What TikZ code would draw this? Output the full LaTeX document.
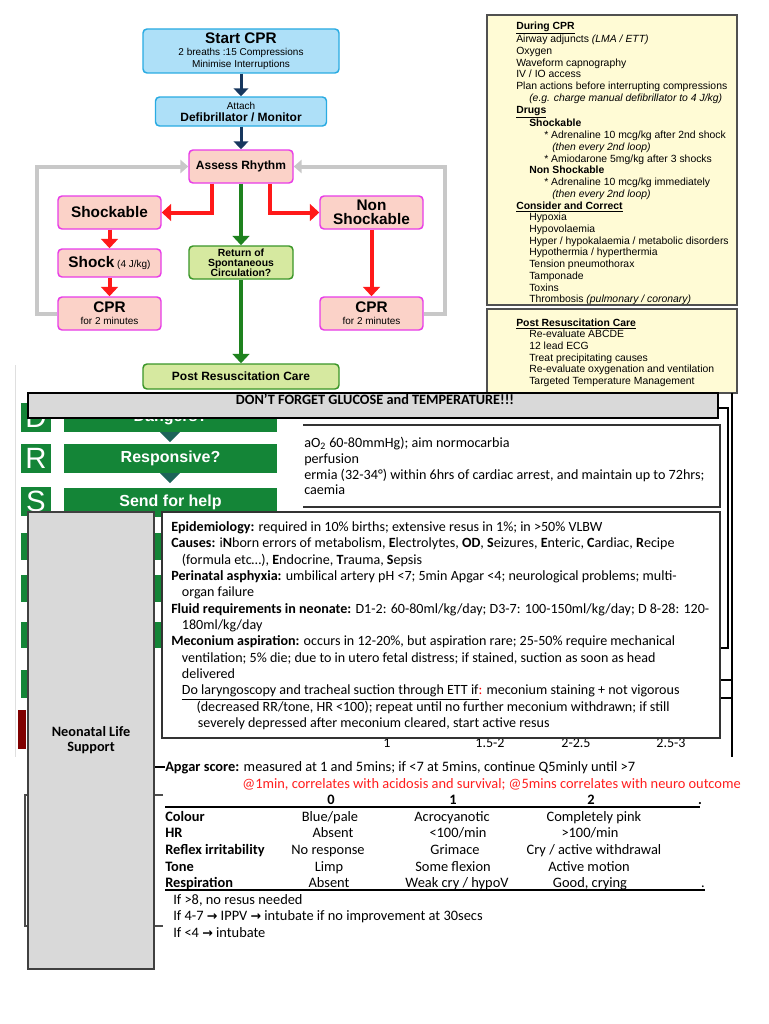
\documentclass[tikz,border=0pt]{standalone}
\usepackage{fontspec}
\setmainfont{Carlito}
\newfontfamily\arial{Liberation Sans}
\newfontfamily\dvs{DejaVu Sans}
\usetikzlibrary{arrows.meta,calc}
\definecolor{cprblue}{RGB}{174,224,248}
\definecolor{cprblueb}{RGB}{41,171,226}
\definecolor{cprpink}{RGB}{251,210,200}
\definecolor{cprpinkb}{RGB}{232,60,232}
\definecolor{cprgreen}{RGB}{214,233,160}
\definecolor{cprgreenb}{RGB}{58,150,40}
\definecolor{cprnavy}{RGB}{23,55,94}
\definecolor{cprred}{RGB}{255,25,25}
\definecolor{cprgreenarr}{RGB}{30,130,30}
\definecolor{loopgray}{RGB}{200,200,200}
\definecolor{panelyellow}{RGB}{255,251,213}
\definecolor{panelborder}{RGB}{80,80,80}
\definecolor{drsgreen}{RGB}{20,133,55}
\definecolor{drstri}{RGB}{28,100,88}
\definecolor{drsred}{RGB}{128,0,0}
\definecolor{bannergray}{RGB}{217,217,217}
\definecolor{apgred}{RGB}{255,30,30}
\begin{document}
\begin{tikzpicture}[x=0.75pt,y=-0.75pt,
  flowbox/.style={rectangle, rounded corners=3pt, inner sep=0pt, align=center, line width=1.1pt, font=\arial\fontsize{7.5}{9}\selectfont},
  bluebox/.style={flowbox, fill=cprblue, draw=cprblueb},
  pinkbox/.style={flowbox, fill=cprpink, draw=cprpinkb},
  greenbox/.style={flowbox, fill=cprgreen, draw=cprgreenb},
  bigtitle/.style={font=\arial\bfseries\fontsize{11.5}{10.5}\selectfont},
  navyarrow/.style={draw=cprnavy, line width=2.25pt, -{Triangle[width=11pt,length=6pt]}},
  redarrow/.style={draw=cprred, line width=3pt, -{Triangle[width=12.5pt,length=7pt]}},
  greenarrow/.style={draw=cprgreenarr, line width=3pt, -{Triangle[width=12.5pt,length=7pt]}},
  grayloop/.style={draw=loopgray, line width=3pt, -{Triangle[width=10pt,length=6pt]}},
  paneltext/.style={anchor=north west, inner sep=0pt, align=left, font=\arial\fontsize{7.8}{8.8}\selectfont},
  panelbox/.style={fill=panelyellow, draw=panelborder, line width=0.9pt},
  bodytext/.style={anchor=north west, inner sep=0pt, align=left, font=\fontsize{10.55}{12.25}\selectfont},
  whitebox/.style={fill=white, draw=black!80, line width=0.8pt},
  drsletter/.style={fill=drsgreen, text=white, minimum width=22.5pt, minimum height=21.75pt, inner sep=0pt, font=\arial\fontsize{22}{22}\selectfont},
  drsbar/.style={fill=drsgreen, text=white, minimum width=160pt, minimum height=21.75pt, inner sep=0pt, font=\arial\bfseries\fontsize{12}{12}\selectfont},
  apg/.style={anchor=base, inner sep=0pt, font=\fontsize{10.8}{12}\selectfont},
  apglab/.style={anchor=base west, inner sep=0pt, font=\bfseries\fontsize{10.8}{12}\selectfont},
  thinline/.style={draw=black, line width=0.8pt}
]
\useasboundingbox (0,0) rectangle (768,1024);
\fill[white] (0,0) rectangle (768,1024);

% ---------------- top flowchart ----------------
\node[bluebox, minimum width=147pt, minimum height=33pt] (start) at (241,51)
  {{\fontsize{11.5}{12}\selectfont\bfseries Start CPR}\\ 2 breaths :15 Compressions\\ Minimise Interruptions};
\node[bluebox, minimum width=128.25pt, minimum height=21.75pt] (defib) at (241,111.5)
  {Attach\\{\fontsize{9}{10}\selectfont\bfseries Defibrillator / Monitor}};
\node[pinkbox, minimum width=78pt, minimum height=24.75pt, font=\arial\bfseries\fontsize{9}{10}\selectfont] (assess) at (241,166.5) {Assess Rhythm};
\node[pinkbox, bigtitle, minimum width=77.25pt, minimum height=24.75pt] (shockable) at (109.5,212.5) {Shockable};
\node[pinkbox, bigtitle, minimum width=77.25pt, minimum height=24.75pt] (nonshock) at (371.5,212.5) {Non\\Shockable};
\node[pinkbox, minimum width=77.25pt, minimum height=21pt] (shock) at (109.5,263)
  {{\bfseries\fontsize{11.5}{12}\selectfont Shock} (4 J/kg)};
\node[pinkbox, minimum width=77.25pt, minimum height=24.75pt] (cprL) at (109.5,313.5)
  {{\bfseries\fontsize{11.5}{10.5}\selectfont CPR}\\ for 2 minutes};
\node[pinkbox, minimum width=77.25pt, minimum height=24.75pt] (cprR) at (371.5,313.5)
  {{\bfseries\fontsize{11.5}{10.5}\selectfont CPR}\\ for 2 minutes};
\node[greenbox, minimum width=78pt, minimum height=24.75pt, font=\arial\bfseries\fontsize{7.8}{7.4}\selectfont] (rosc) at (241,262.5)
  {Return of\\Spontaneous\\Circulation?};
\node[greenbox, minimum width=147pt, minimum height=18.75pt, font=\arial\bfseries\fontsize{9}{10}\selectfont] (post) at (241,376.5) {Post Resuscitation Care};

\draw[navyarrow] (start.south) -- (defib.north);
\draw[navyarrow] (defib.south) -- (assess.north);
\draw[redarrow] ($(assess.south)+(-29,0)$) |- (shockable.east);
\draw[redarrow] ($(assess.south)+(29,0)$) |- (nonshock.west);
\draw[greenarrow] (assess.south) -- (rosc.north);
\draw[greenarrow] (rosc.south) -- (post.north);
\draw[redarrow] (shockable.south) -- (shock.north);
\draw[redarrow] (shock.south) -- (cprL.north);
\draw[redarrow] (nonshock.south) -- (cprR.north);
\draw[grayloop] (cprL.west) -- ++(-20,0) |- (assess.west);
\draw[grayloop] (cprR.east) -- ++(21,0) |- (assess.east);

% ---------------- yellow panels ----------------
\draw[panelbox] (487,15) rectangle (737,305);
\node[paneltext] (duringtxt) at (516,21.2) {%
\underline{\textbf{During CPR}}\\
Airway adjuncts \textit{(LMA / ETT)}\\
Oxygen\\
Waveform capnography\\
IV / IO access\\
Plan actions before interrupting compressions\\
\hspace*{9.75pt}\textit{(e.g. charge manual defibrillator to 4 J/kg)}\\
\underline{\textbf{Drugs}}\\
\hspace*{9.75pt}\textbf{Shockable}\\
\hspace*{21pt}* Adrenaline 10 mcg/kg after 2nd shock\\
\hspace*{27pt}\textit{(then every 2nd loop)}\\
\hspace*{21pt}* Amiodarone 5mg/kg after 3 shocks\\
\hspace*{9.75pt}\textbf{Non Shockable}\\
\hspace*{21pt}* Adrenaline 10 mcg/kg immediately\\
\hspace*{27pt}\textit{(then every 2nd loop)}\\
\underline{\textbf{Consider and Correct}}\\
\hspace*{9.75pt}Hypoxia\\
\hspace*{9.75pt}Hypovolaemia\\
\hspace*{9.75pt}Hyper / hypokalaemia / metabolic disorders\\
\hspace*{9.75pt}Hypothermia / hyperthermia\\
\hspace*{9.75pt}Tension pneumothorax\\
\hspace*{9.75pt}Tamponade\\
\hspace*{9.75pt}Toxins\\
\hspace*{9.75pt}Thrombosis \textit{(pulmonary / coronary)}};
\draw[panelbox] (487,309) rectangle (737,393);
\node[paneltext] (posttxt) at (516,318.2) {%
\underline{\textbf{Post Resuscitation Care}}\\
\hspace*{9.75pt}Re-evaluate ABCDE\\
\hspace*{9.75pt}12 lead ECG\\
\hspace*{9.75pt}Treat precipitating causes\\
\hspace*{9.75pt}Re-evaluate oxygenation and ventilation\\
\hspace*{9.75pt}Targeted Temperature Management};

% ---------------- frame behind ----------------
\draw[thinline] (732,393) -- (732,757);
\draw[thinline] (718,408) -- (728,408) -- (728,648) -- (720,648);
\draw[thinline] (700,680) -- (732,680);
\draw[thinline] (700,698) -- (732,698);

% upper text box (partly hidden)
\draw[whitebox] (250,425) rectangle (720,507);
\node[bodytext, font=\fontsize{10.6}{11.8}\selectfont] (uppertxt) at (304,437) {%
aO\textsubscript{2} 60-80mmHg); aim normocarbia\\
perfusion\\
ermia (32-34°) within 6hrs of cardiac arrest, and maintain up to 72hrs;\\
caemia};

% ---------------- DRS picture ----------------
\fill[white] (15,393) rectangle (303,757);
\draw[gray!25, line width=0.75pt] (15,365) -- (15,757);
\node[drsletter] (dL) at (36,417.5) {D};
\node[drsletter] (rL) at (36,458) {R};
\node[drsletter] (sL) at (36,501.5) {S};
\node[drsbar] (dBar) at (170.5,417.5) {Dangers?};
\node[drsbar] (rBar) at (170.5,458.5) {Responsive?};
\node[drsbar] (sBar) at (170.5,502) {Send for help};
\fill[drstri] (160,432) -- (180,432) -- (170,442) -- cycle;
\fill[drstri] (160,473) -- (180,473) -- (170,483) -- cycle;
\fill[drsgreen] (21,533) rectangle (162,560);
\fill[drsgreen] (21,575) rectangle (162,602);
\fill[drsgreen] (21,622) rectangle (162,648);
\fill[drsgreen] (21,670) rectangle (28,698);
\fill[drsred] (18,710) rectangle (26,749);

% banner
\draw[fill=bannergray, draw=black, line width=0.8pt] (28,393) rectangle (718,418);
\node[inner sep=0pt, font=\bfseries\fontsize{10.7}{12}\selectfont] (bannertxt) at (375,399) {DON’T FORGET GLUCOSE and TEMPERATURE!!!};

% table row behind
\node[apg, font=\fontsize{10.5}{12}\selectfont] (t1) at (387,747) {1};
\node[apg, font=\fontsize{10.5}{12}\selectfont] (t2) at (490,747) {1.5-2};
\node[apg, font=\fontsize{10.5}{12}\selectfont] (t3) at (576,747) {2-2.5};
\node[apg, font=\fontsize{10.5}{12}\selectfont] (t4) at (671,747) {2.5-3};

% epidemiology box
\draw[whitebox] (162,512) rectangle (720,738);
\node[bodytext] (epitxt) at (171,521.5) {%
\textbf{Epidemiology:} required in 10\% births; extensive resus in 1\%; in >50\% VLBW\\
\textbf{Causes:} i\textbf{N}born errors of metabolism, \textbf{E}lectrolytes, \textbf{OD}, \textbf{S}eizures, \textbf{E}nteric, \textbf{C}ardiac, \textbf{R}ecipe\\
\hspace*{8pt}(formula etc…), \textbf{E}ndocrine, \textbf{T}rauma, \textbf{S}epsis\\
\textbf{Perinatal asphyxia:} umbilical artery pH <7; 5min Apgar <4; neurological problems; multi-\\
\hspace*{8pt}organ failure\\
\textbf{Fluid requirements in neonate:} D1-2: 60-80ml/kg/day; D3-7: 100-150ml/kg/day; D 8-28: 120-\\
\hspace*{8pt}180ml/kg/day\\
\textbf{Meconium aspiration:} occurs in 12-20\%, but aspiration rare; 25-50\% require mechanical\\
\hspace*{8pt}ventilation; 5\% die; due to in utero fetal distress; if stained, suction as soon as head\\
\hspace*{8pt}delivered\\
\hspace*{8pt}\underline{Do laryngoscopy and tracheal suction through ETT if}\textcolor{red}{:} meconium staining + not vigorous\\
\hspace*{19pt}(decreased RR/tone, HR <100); repeat until no further meconium withdrawn; if still\\
\hspace*{20pt}severely depressed after meconium cleared, start active resus};

% box behind neonatal panel
\draw[draw=black!70, line width=0.8pt] (163,795) -- (25,795) -- (25,926) -- (163,926);
\draw[draw=black!50, line width=0.5pt] (27.5,797) -- (27.5,924);
\draw[thinline] (155,767) -- (165,767);

% neonatal life support panel
\draw[fill=bannergray, draw=black!75, line width=0.9pt] (28,512) rectangle (154,969);
\node[inner sep=0pt, align=center, font=\bfseries\fontsize{10.7}{11.25}\selectfont] (nls) at (91,740.5) {Neonatal Life\\Support};

% ---------------- Apgar ----------------
\node[apglab, font=\fontsize{10.8}{12}\selectfont] (apgar) at (165,771) {\textbf{Apgar score:} measured at 1 and 5mins; if <7 at 5mins, continue Q5minly until >7};
\node[anchor=base east, inner sep=0pt, text=apgred, font=\fontsize{10.8}{12}\selectfont] (apgred) at (741,788) {@1min, correlates with acidosis and survival; @5mins correlates with neuro outcome};
\node[apg, font=\bfseries\fontsize{10.8}{12}\selectfont] (h0) at (331,804) {0};
\node[apg, font=\bfseries\fontsize{10.8}{12}\selectfont] (h1) at (453,804) {1};
\node[apg, font=\bfseries\fontsize{10.8}{12}\selectfont] (h2) at (591,804) {2};
\node[apg, font=\bfseries\fontsize{10.8}{12}\selectfont] (hdot) at (700,804) {.};
\draw[thinline] (165,807) -- (700,807);
\node[apglab] (lc) at (165,821) {Colour};
\node[apg] (c0) at (330,821) {Blue/pale};
\node[apg] (c1) at (452,821) {Acrocyanotic};
\node[apg] (c2) at (594,821) {Completely pink};
\node[apglab] (lh) at (165,837) {HR};
\node[apg] (h0v) at (333,837) {Absent};
\node[apg] (h1v) at (458,837) {<100/min};
\node[apg] (h2v) at (590,837) {>100/min};
\node[apglab] (lr) at (165,854) {Reflex irritability};
\node[apg] (r0) at (328,854) {No response};
\node[apg] (r1) at (455,854) {Grimace};
\node[apg] (r2) at (594,854) {Cry / active withdrawal};
\node[apglab] (lt) at (165,871) {Tone};
\node[apg] (t0) at (329,871) {Limp};
\node[apg] (t1v) at (453,871) {Some flexion};
\node[apg] (t2v) at (589,871) {Active motion};
\node[apglab] (lrs) at (165,887) {Respiration};
\node[apg] (s0) at (329,887) {Absent};
\node[apg] (s1) at (457,887) {Weak cry / hypoV};
\node[apg] (s2) at (590,887) {Good, crying};
\node[apg] (sdot) at (703,887) {.};
\draw[thinline] (165,890) -- (705,890);
\node[apglab, font=\fontsize{10.8}{12}\selectfont] (if1) at (173,904) {If >8, no resus needed};
\node[apglab, font=\fontsize{10.8}{12}\selectfont] (if2) at (173,920) {If 4-7 {\dvs\bfseries\fontsize{9.5}{12}\selectfont →} IPPV {\dvs\bfseries\fontsize{9.5}{12}\selectfont →} intubate if no improvement at 30secs};
\node[apglab, font=\fontsize{10.8}{12}\selectfont] (if3) at (173,937) {If <4 {\dvs\bfseries\fontsize{9.5}{12}\selectfont →} intubate};
\end{tikzpicture}
\end{document}
